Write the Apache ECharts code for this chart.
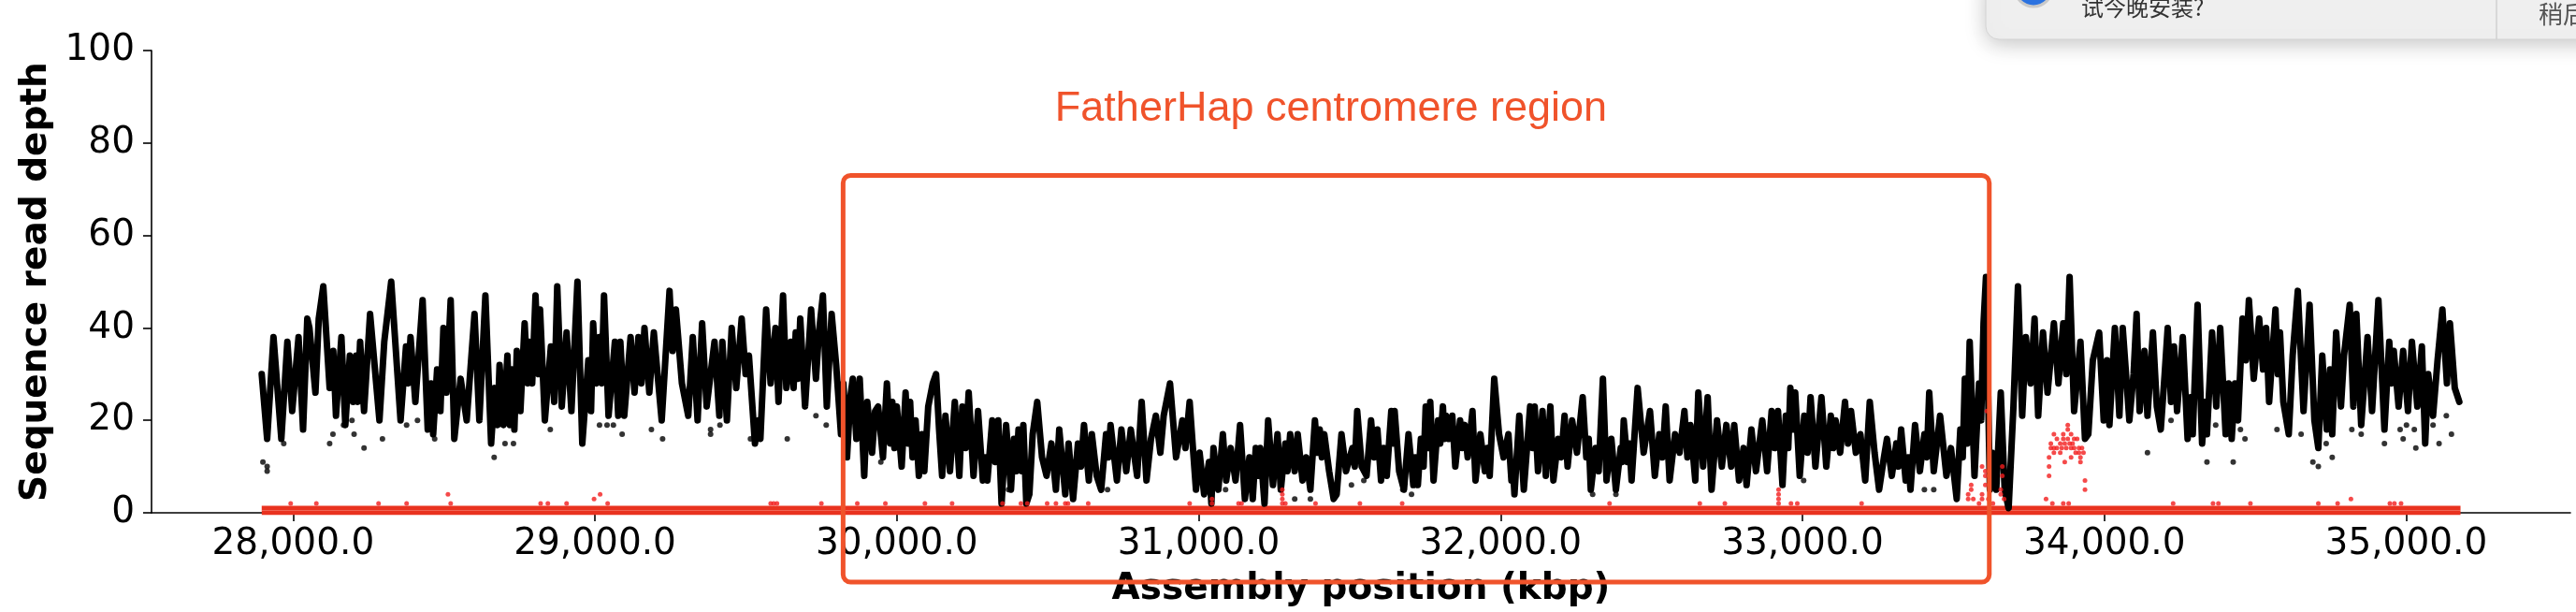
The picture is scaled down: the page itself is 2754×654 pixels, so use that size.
<!DOCTYPE html>
<html>
<head>
<meta charset="utf-8">
<script src="https://cdn.jsdelivr.net/npm/echarts@6/dist/echarts.min.js"></script>
<style>
  html, body { margin: 0; padding: 0; background: #fff; }
  #main { width: 2754px; height: 654px; }
</style>
</head>
<body>
<div id="main"></div>
<script>
// read depth trace, [position kbp, depth], peaks and troughs
const traceLeft = [
  [27896,30],[27914,16],[27935,38],[27961,16],[27981,37],[27997,22],[28018,38],[28033,18],[28047,42],[28054,40],
  [28074,26],[28085,42],[28100,49],[28121,27],[28133,35],[28142,21],[28160,38],[28173,19],[28188,34],[28199,24],
  [28209,34],[28214,24],[28222,37],[28235,22],[28255,43],[28286,20],[28302,37],[28325,50],[28356,20],[28374,36],
  [28381,28],[28389,38],[28405,24],[28429,46],[28446,18],[28457,28],[28464,17],[28477,31],[28488,22],[28498,40],
  [28508,26],[28522,46],[28534,16],[28555,29],[28575,20],[28601,43],[28617,20],[28637,47],[28656,15],[28668,27],
  [28677,19],[28684,32],[28697,19],[28710,34],[28718,19],[28725,31],[28733,18],[28741,35],[28753,22],[28767,41],
  [28777,28],[28782,37],[28792,28],[28803,47],[28813,30],[28818,44],[28834,20],[28854,36],[28865,24],[28875,49],
  [28890,23],[28906,39],[28922,22],[28942,50],[28958,15],[28978,33],[28987,22],[28994,41],[29004,28],[29014,38],
  [29022,28],[29030,47],[29045,21],[29066,37],[29077,21],[29084,37],[29097,21],[29118,38],[29131,26],[29144,38],
  [29154,28],[29164,40],[29180,26],[29195,39],[29221,20],[29247,48],[29257,35],[29268,44],[29288,28],[29309,21],
  [29324,38],[29340,20],[29355,41],[29370,23],[29396,37],[29412,21],[29422,37],[29437,20],[29453,40],[29468,27],
  [29486,42],[29499,30],[29510,34],[29530,15],[29541,20],[29548,16],[29567,44],[29582,28],[29598,40],[29608,24],
  [29623,47],[29634,27],[29649,37],[29658,27],[29665,39],[29673,29],[29680,42],[29696,23],[29716,44],[29732,29],
  [29742,39],[29755,47],[29768,23],[29784,43],[29799,32],[29815,17]
];
const traceCentro = [
  [29823,28],[29835,12],[29846,25],[29854,29],[29866,16],[29877,29],[29892,8],[29902,24],[29918,13],[29928,22],
  [29938,23],[29954,12],[29967,28],[29978,15],[29985,24],[29992,14],[30000,23],[30016,10],[30029,26],[30037,15],
  [30044,24],[30052,12],[30062,20],[30073,8],[30083,17],[30091,9],[30104,23],[30119,28],[30130,30],[30140,18],
  [30150,8],[30161,21],[30176,9],[30192,24],[30207,8],[30217,23],[30228,14],[30238,26],[30254,8],[30269,22],
  [30285,7],[30295,12],[30300,7],[30316,20],[30326,11],[30336,20],[30347,2],[30362,19],[30378,5],[30388,16],
  [30396,9],[30403,18],[30414,9],[30419,19],[30429,2],[30439,4],[30450,17],[30465,24],[30481,12],[30496,8],
  [30512,15],[30527,5],[30538,18],[30558,4],[30569,15],[30584,3],[30600,15],[30610,10],[30620,19],[30636,7],
  [30646,17],[30662,8],[30677,5],[30693,17],[30701,12],[30708,19],[30729,7],[30744,18],[30760,9],[30775,18],
  [30796,8],[30811,24],[30827,7],[30842,16],[30858,21],[30873,13],[30884,21],[30905,28],[30925,12],[30946,20],
  [30956,14],[30970,24],[30982,13],[30991,5],[31003,13],[31018,4],[31034,11],[31042,2],[31049,14],[31065,5],
  [31080,17],[31091,7],[31106,14],[31122,7],[31137,19],[31153,3],[31168,12],[31179,3],[31189,14],[31197,8],
  [31204,14],[31218,2],[31230,20],[31246,6],[31261,17],[31272,5],[31287,15],[31294,9],[31303,17],[31318,9],
  [31328,17],[31344,7],[31356,12],[31370,5],[31385,20],[31393,13],[31401,18],[31408,12],[31416,17],[31432,9],
  [31447,3],[31457,4],[31473,17],[31488,9],[31509,14],[31517,10],[31525,22],[31540,10],[31556,8],[31571,20],
  [31581,12],[31592,18],[31604,7],[31613,14],[31623,8],[31638,22],[31644,15],[31649,22],[31664,9],[31680,5],
  [31695,17],[31711,6],[31718,12],[31726,6],[31736,16],[31745,10],[31752,23],[31759,14],[31767,24],[31778,7],
  [31793,20],[31800,15],[31809,23],[31814,16],[31819,21],[31829,16],[31840,21],[31850,10],[31866,20],[31873,14],
  [31881,19],[31891,12],[31907,22],[31917,7],[31933,17],[31948,9],[31956,14],[31964,8],[31979,29],[31995,17],
  [32010,12],[32026,17],[32036,7],[32041,10],[32046,4],[32062,21],[32077,5],[32098,23],[32106,14],[32113,23],
  [32124,9],[32139,22],[32150,8],[32165,23],[32175,7],[32191,16],[32201,12],[32212,21],[32222,10],[32237,20],
  [32253,13],[32272,25],[32284,12],[32292,16],[32299,5],[32315,14],[32325,9],[32339,29],[32351,7],[32367,16],
  [32382,5],[32398,14],[32403,11],[32408,20],[32420,11],[32427,15],[32434,7],[32454,27],[32474,13],[32495,22],
  [32511,8],[32526,17],[32536,12],[32547,23],[32560,7],[32578,17],[32593,13],[32609,22],[32619,12],[32629,19],
  [32645,7],[32655,26],[32671,10],[32686,25],[32699,5],[32717,20],[32733,10],[32748,19],[32764,10],[32774,19],
  [32790,7],[32805,14],[32815,6],[32831,18],[32846,9],[32867,20],[32883,9],[32898,22],[32908,14],[32919,22],
  [32934,6],[32945,21],[32953,14],[32960,27],[32968,18],[32976,26],[32991,8],[33006,21],[33017,13],[33027,25],
  [33043,10],[33063,25],[33079,10],[33094,21],[33102,14],[33110,20],[33125,13],[33141,24],[33151,15],[33161,22],
  [33177,13],[33192,17],[33208,7],[33223,24],[33239,13],[33254,5],[33270,12],[33280,16],[33296,8],[33311,15],
  [33318,10],[33327,18],[33342,7],[33350,12],[33358,5],[33373,19],[33389,9],[33404,17],[33412,12],[33420,26],
  [33435,9],[33456,21],[33477,8],[33492,14],[33511,3],[33523,18],[33531,12],[33538,29],[33546,15],[33554,37],
  [33570,8],[33585,28],[33592,20],[33600,41],[33608,51],[33621,5]
];
const traceRight = [
  [33628,13],[33642,5],[33657,26],[33670,5],[33683,1],[33699,23],[33714,49],[33728,21],[33740,38],[33756,28],
  [33769,42],[33781,21],[33797,39],[33812,26],[33833,41],[33848,28],[33864,41],[33874,30],[33885,51],[33900,22],
  [33921,37],[33936,16],[33947,17],[33962,33],[33983,39],[33998,20],[34009,33],[34017,19],[34035,40],[34050,21],
  [34061,40],[34083,20],[34097,30],[34107,43],[34117,22],[34133,35],[34143,21],[34161,39],[34174,23],[34187,18],
  [34200,30],[34210,40],[34221,24],[34231,36],[34241,22],[34260,38],[34276,16],[34286,25],[34293,17],[34309,45],
  [34324,15],[34334,24],[34340,17],[34357,39],[34371,23],[34384,40],[34402,17],[34412,28],[34422,16],[34433,28],
  [34443,20],[34458,42],[34469,33],[34479,46],[34495,29],[34513,42],[34526,31],[34536,40],[34546,24],[34567,44],
  [34575,30],[34582,39],[34593,24],[34611,17],[34624,34],[34641,48],[34660,22],[34680,45],[34696,20],[34709,14],
  [34722,34],[34737,18],[34748,31],[34755,17],[34768,39],[34784,23],[34794,34],[34813,45],[34825,23],[34835,43],
  [34851,19],[34872,38],[34887,22],[34908,46],[34928,18],[34944,37],[34951,28],[34959,35],[34975,23],[34990,35],
  [35006,22],[35019,37],[35037,23],[35052,36],[35063,15],[35073,30],[35089,21],[35104,33],[35120,44],[35135,28],
  [35145,41],[35161,27],[35176,24]
];
// isolated low black points
const blackOutliers = [
  [27900,11],[27914,10],[27914,9],[27969,15],[28121,15],[28132,17],[28167,19],[28195,20],[28202,17],[28235,14],
  [28296,16],[28376,19],[28412,20],[28469,16],[28666,12],[28702,15],[28730,15],[28852,18],[29015,19],[29040,19],
  [29061,19],[29090,17],[29187,18],[29224,16],[29383,18],[29383,17],[29414,19],[29515,16],[29637,16],[29732,21],
  [29766,19],[29947,11],[30370,5],[30698,5],[31089,5],[31318,3],[31370,3],[31506,6],[31547,7],[31676,5],
  [31705,4],[32305,4],[32382,4],[33004,7],[33404,5],[33435,5],[34143,13],[34221,20],[34340,11],[34369,19],
  [34427,11],[34451,18],[34466,16],[34572,18],[34652,17],[34691,11],[34709,10],[34735,15],[34755,12],[34820,18],
  [34851,17],[34928,15],[34980,18],[34990,16],[35001,19],[35027,18],[35032,14],[35089,19],[35109,15],[35133,21],
  [35150,17]
];
// red series: low depth everywhere plus scattered points
const redCovered = [27896, 35180];
const redBaseDepths = [0, 1];
const redPoints = [
  [27992,2],[28077,2],[28283,2],[28376,2],[28522,2],[28513,4],[28820,2],[28844,2],[28906,2],[29042,2],
  [28997,3],[29017,4],[29582,2],[29592,2],[29603,2],[29750,2],[29869,2],[29962,2],[30093,2],[30183,2],
  [30350,2],[30411,2],[30432,2],[30498,2],[30527,2],[30558,2],[30567,2],[30634,2],[30970,2],[31044,3],
  [31044,2],[31132,2],[31142,2],[31277,5],[31277,4],[31277,3],[31277,2],[31287,2],[31387,2],[31534,2],
  [31674,2],[32361,2],[32660,2],[32743,2],[32921,5],[32921,4],[32921,3],[32921,2],[32962,2],[32983,2],
  [33196,2],[33549,3],[33549,4],[33559,5],[33559,6],[33566,3],[33585,2],[33595,10],[33595,3],[33595,4],
  [33606,6],[33606,8],[33606,9],[33611,22],[33616,3],[33631,2],[33657,5],[33657,4],[33662,10],[33662,8],
  [33668,3],[33807,3],[33817,8],[33817,10],[33817,12],[33823,14],[33823,15],[33828,2],[33833,17],[33833,14],
  [33833,13],[33843,14],[33843,16],[33854,15],[33854,13],[33859,14],[33864,17],[33864,16],[33869,11],[33869,15],
  [33874,14],[33879,19],[33879,18],[33879,16],[33885,15],[33890,17],[33890,14],[33890,12],[33895,15],[33900,16],
  [33900,14],[33905,13],[33910,16],[33916,14],[33916,13],[33921,12],[33921,11],[33926,14],[33931,13],[33936,7],
  [33936,5],[33864,2],[33882,2],[34228,2],[34360,2],[34378,2],[34484,2],[34709,2],[34773,2],[34817,3],
  [34946,2],[34961,2],[34983,2]
];
const xRange = [27531, 35544];
const xTicks = [28000, 29000, 30000, 31000, 32000, 33000, 34000, 35000];
const yTicks = [0, 20, 40, 60, 80, 100];
// FatherHap centromere box, kbp and depth
const centroRegion = [29822, 33619];
const centroDepth = [-15, 73];

const chart = echarts.init(document.getElementById('main'));

const axisFont = { fontFamily: 'DejaVu Sans', fontSize: 39, color: '#000' };
const nameFont = { fontFamily: 'DejaVu Sans', fontSize: 39, fontWeight: 'bold', color: '#000' };

const option = {
  animation: false,
  backgroundColor: '#fff',
  grid: { left: 162, right: 6, top: 54, bottom: 106 },
  xAxis: {
    type: 'value',
    min: xRange[0],
    max: xRange[1],
    name: 'Assembly position (kbp)',
    nameLocation: 'middle',
    nameGap: 62,
    nameTextStyle: nameFont,
    axisLine: { show: true, lineStyle: { color: '#000', width: 1.6 } },
    axisTick: { show: true, length: 9, customValues: xTicks, lineStyle: { color: '#000', width: 1.6 } },
    axisLabel: Object.assign({
      customValues: xTicks,
      margin: 14,
      formatter: v => v.toLocaleString('en-US', { minimumFractionDigits: 1, maximumFractionDigits: 1 })
    }, axisFont),
    splitLine: { show: false }
  },
  yAxis: {
    type: 'value',
    min: yTicks[0],
    max: yTicks[yTicks.length - 1],
    interval: 20,
    name: 'Sequence read depth',
    nameLocation: 'middle',
    nameGap: 104,
    nameRotate: 90,
    nameTextStyle: nameFont,
    axisLine: { show: true, lineStyle: { color: '#000', width: 1.6 } },
    axisTick: { show: true, length: 9, lineStyle: { color: '#000', width: 1.6 } },
    axisLabel: Object.assign({ margin: 18 }, axisFont),
    splitLine: { show: false }
  },
  series: [
    ...redBaseDepths.map(d => ({
      type: 'line',
      data: redCovered.map(x => [x, d]),
      symbol: 'none',
      lineStyle: { color: '#e9321f', width: 5 },
      z: 1
    })),
    {
      type: 'line',
      data: traceLeft.concat(traceCentro, traceRight),
      symbol: 'none',
      lineStyle: { color: '#000', width: 7, join: 'round', cap: 'round' },
      z: 2
    },
    {
      type: 'scatter',
      data: blackOutliers,
      symbolSize: 6,
      itemStyle: { color: '#000' },
      z: 2
    },
    {
      type: 'scatter',
      data: redPoints,
      symbolSize: 5,
      itemStyle: { color: '#f21d1d' },
      z: 3
    }
  ]
};
chart.setOption(option);

// annotation box and label, plus the notification popup in the screenshot
const p0 = chart.convertToPixel({ gridIndex: 0 }, [centroRegion[0], centroDepth[1]]);
const p1 = chart.convertToPixel({ gridIndex: 0 }, [centroRegion[1], centroDepth[0]]);
chart.setOption({
  graphic: [
    {
      type: 'rect',
      shape: { x: p0[0], y: p0[1], width: p1[0] - p0[0], height: p1[1] - p0[1], r: 8 },
      style: { fill: 'none', stroke: '#f0532b', lineWidth: 5 },
      z: 10
    },
    {
      type: 'text',
      x: 1423, y: 117,
      style: {
        text: 'FatherHap centromere region',
        font: '45px "Liberation Sans", Arial, sans-serif',
        fill: '#f0532b', align: 'center', verticalAlign: 'middle'
      },
      z: 10
    },
    {
      type: 'group',
      z: 20,
      children: [
        {
          type: 'rect',
          shape: { x: 2123, y: -30, width: 700, height: 72, r: 14 },
          style: {
            fill: '#efefef', stroke: '#d4d4d4', lineWidth: 1,
            shadowBlur: 22, shadowOffsetY: 5, shadowColor: 'rgba(0,0,0,0.22)'
          }
        },
        {
          type: 'circle',
          shape: { cx: 2174, cy: -13, r: 20 },
          style: { fill: '#2b72e0', stroke: '#c9c9c9', lineWidth: 3 }
        },
        {
          type: 'line',
          shape: { x1: 2669, y1: 0, x2: 2669, y2: 42 },
          style: { stroke: '#d0d0d0', lineWidth: 1.5 }
        },
        {
          type: 'text',
          x: 2225, y: 8,
          style: {
            text: '试今晚安装?', font: '24px "Noto Sans CJK SC"',
            fill: '#333', verticalAlign: 'middle'
          }
        },
        {
          type: 'text',
          x: 2714, y: 15,
          style: {
            text: '稍后', font: '26px "Noto Sans CJK SC"',
            fill: '#555', verticalAlign: 'middle'
          }
        }
      ]
    }
  ]
});
</script>
</body>
</html>
